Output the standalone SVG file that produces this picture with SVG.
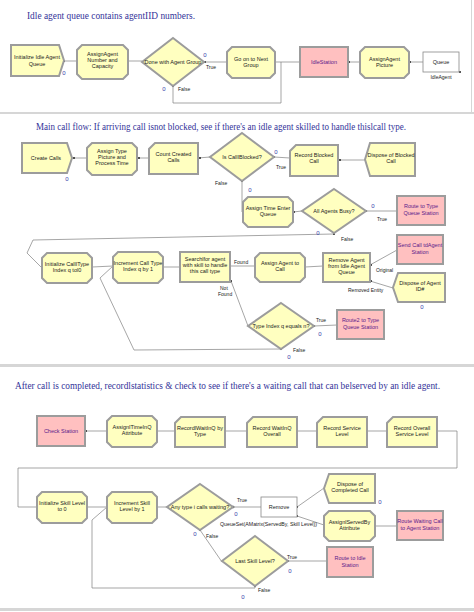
<svg xmlns="http://www.w3.org/2000/svg" width="474" height="612" viewBox="0 0 474 612">
<style>
.m{fill:#ffffc0;stroke:#9c9c9c;stroke-width:2}
.s{fill:#ffc0c0;stroke:#9c9c9c;stroke-width:2}
.w{fill:#fff;stroke:#888;stroke-width:0.8}
.t{font-family:"Liberation Sans",Arial,sans-serif;font-size:5.5px;text-anchor:middle;fill:#222}
.st{fill:#5a1a8a}
.z{font-family:"Liberation Sans",Arial,sans-serif;font-size:6px;fill:#3344aa;text-anchor:middle}
.l{font-family:"Liberation Sans",Arial,sans-serif;font-size:5px;fill:#222}
.h{font-family:"Liberation Serif","Times New Roman",serif;font-size:10px;fill:#333399}
.c{fill:none;stroke:#808080;stroke-width:0.7}
.d{fill:#222}
.sep{fill:#d6d6d6}
</style>
<rect width="474" height="612" fill="#fff"/>
<rect class="sep" x="0" y="112" width="474" height="2"/>
<rect class="sep" x="0" y="364" width="474" height="3"/>
<rect class="sep" x="0" y="608" width="474" height="3"/>
<rect class="sep" x="471" y="0" width="1" height="112"/>

<text class="h" x="27" y="19" textLength="168" lengthAdjust="spacingAndGlyphs">Idle agent queue contains agentIID numbers.</text>
<text class="h" x="36" y="130" textLength="370" lengthAdjust="spacingAndGlyphs">Main call flow: If arriving call isnot blocked, see if there's an idle agent skilled to handle thislcall type.</text>
<text class="h" x="15" y="389" textLength="425" lengthAdjust="spacingAndGlyphs">After call is completed, recordlstatistics &amp; check to see if there's a waiting call that can belserved by an idle agent.</text>

<g id="connectors">
<polyline class="c" points="64,61 77,61"/>
<polyline class="c" points="128,61 142,61"/>
<polyline class="c" points="205,62 227,62"/>
<polyline class="c" points="275,62 300,62"/>
<polyline class="c" points="348,62 360,62"/>
<polyline class="c" points="409,62 423,62"/>
<polyline class="c" points="173,86 173,103 281,103 281,62"/>
<polyline class="c" points="72,158 87,158"/>
<polyline class="c" points="137,158 149,158"/>
<polyline class="c" points="198,158 210,157"/>
<polyline class="c" points="274,157 290,158"/>
<polyline class="c" points="338,160 365,160"/>
<polyline class="c" points="242,181 242,212 244,212"/>
<polyline class="c" points="293,212 302,211"/>
<polyline class="c" points="366,211 397,211"/>
<polyline class="c" points="334,234 33,240 27,253 42,268"/>
<polyline class="c" points="92,267 113,266"/>
<polyline class="c" points="163,267 180,267"/>
<polyline class="c" points="230,266 255,266"/>
<polyline class="c" points="231,281 248,326"/>
<polyline class="c" points="305,267 323,266"/>
<polyline class="c" points="370,265 397,250"/>
<polyline class="c" points="370,281 393,288"/>
<polyline class="c" points="314,326 337,325"/>
<polyline class="c" points="281,349 134,350 100,278 113,266"/>
<polyline class="c" points="85,431 107,431"/>
<polyline class="c" points="157,431 175,431"/>
<polyline class="c" points="225,431 247,431"/>
<polyline class="c" points="297,431 317,431"/>
<polyline class="c" points="367,431 387,431"/>
<polyline class="c" points="437,431 457,431 457,468 18,468 18,507 37,507"/>
<polyline class="c" points="87,507 107,507"/>
<polyline class="c" points="157,507 167,507"/>
<polyline class="c" points="233,507 261,507"/>
<polyline class="c" points="297,507 324,488"/>
<polyline class="c" points="297,516 324,525"/>
<polyline class="c" points="375,526 397,526"/>
<polyline class="c" points="200,530 222,562"/>
<polyline class="c" points="288,561 327,561"/>
<polyline class="c" points="255,586 255,588 92,588 92,520 107,507"/>
<g class="d">
<circle cx="64" cy="61" r="1"/><circle cx="127" cy="61" r="1"/><circle cx="205" cy="62" r="1"/><circle cx="173" cy="86" r="1"/>
<circle cx="275" cy="62" r="1"/><circle cx="349" cy="62" r="1"/><circle cx="410" cy="62" r="1"/><circle cx="460" cy="72" r="1"/>
<circle cx="74" cy="158" r="1"/><circle cx="139" cy="158" r="1"/><circle cx="200" cy="158" r="1"/><circle cx="274" cy="157" r="1"/>
<circle cx="340" cy="160" r="1"/><circle cx="242" cy="181" r="1"/><circle cx="294" cy="212" r="1"/><circle cx="366" cy="211" r="1"/>
<circle cx="334" cy="234" r="1"/><circle cx="92" cy="267" r="1"/><circle cx="163" cy="267" r="1"/><circle cx="230" cy="266" r="1"/>
<circle cx="231" cy="281" r="1"/><circle cx="305" cy="267" r="1"/><circle cx="371" cy="265" r="1"/><circle cx="371" cy="281" r="1"/>
<circle cx="314" cy="326" r="1"/><circle cx="281" cy="349" r="1"/>
<circle cx="86" cy="431" r="1"/><circle cx="157" cy="431" r="1"/><circle cx="225" cy="431" r="1"/><circle cx="297" cy="431" r="1"/>
<circle cx="367" cy="431" r="1"/><circle cx="437" cy="431" r="1"/><circle cx="87" cy="507" r="1"/><circle cx="157" cy="507" r="1"/>
<circle cx="233" cy="507" r="1.3"/><circle cx="297" cy="507" r="1"/><circle cx="297" cy="516" r="1"/><circle cx="375" cy="526" r="1"/>
<circle cx="200" cy="530" r="1"/><circle cx="288" cy="561" r="1"/><circle cx="255" cy="586" r="1"/>
</g>
</g>

<!-- Section 1 -->
<g id="initIdleQueue"><polygon class="m" points="11,45 59,45 64,60.5 59,76 11,76"/><text class="t" x="37" y="59">Initialize Idle Agent</text><text class="t" x="37" y="65.5">Queue</text><text class="z" x="64" y="75">0</text></g>
<g id="assignAgentNumber"><polygon class="m" points="82,45 123,45 128,50 128,74 123,79 82,79 77,74 77,50"/><text class="t" x="102.5" y="56">AssignAgent</text><text class="t" x="102.5" y="62">Number and</text><text class="t" x="102.5" y="68">Capacity</text></g>
<g id="doneAgentGroup"><polygon class="m" points="173,38 204,62 173,86 142,62"/><text class="t" x="173" y="64">Done with Agent Group</text><text class="z" x="205" y="57">0</text><text class="l" x="206" y="69">True</text><text class="z" x="164" y="91">0</text><text class="l" x="178" y="91">False</text></g>
<g id="goNextGroup"><polygon class="m" points="232,47 270,47 275,52 275,73 270,78 232,78 227,73 227,52"/><text class="t" x="251" y="60.5">Go on to Next</text><text class="t" x="251" y="66.5">Group</text></g>
<g id="idleStation"><rect class="s" x="300" y="47" width="48" height="30"/><text class="t st" x="324" y="64">IdleStation</text></g>
<g id="assignAgentPicture"><polygon class="m" points="365,47 404,47 409,52 409,73 404,78 365,78 360,73 360,52"/><text class="t" x="384.5" y="60.5">AssignAgent</text><text class="t" x="384.5" y="66.5">Picture</text></g>
<g id="queueIdle"><rect class="w" x="423" y="52" width="36" height="20"/><text class="t" x="441" y="64">Queue</text><text class="l" x="441" y="79" text-anchor="middle">IdleAgent</text></g>

<!-- Section 2 -->
<g id="createCalls"><polygon class="m" points="22,143 67,143 72,158 67,173 22,173"/><text class="t" x="46" y="160">Create Calls</text><text class="z" x="67" y="181">0</text></g>
<g id="assignType"><polygon class="m" points="92,143 132,143 137,148 137,170 132,175 92,175 87,170 87,148"/><text class="t" x="112" y="153">Assign Type</text><text class="t" x="112" y="159">Picture and</text><text class="t" x="112" y="165">Process Time</text></g>
<g id="countCreated"><polygon class="m" points="155,143 198,143 198,174 149,174 149,149"/><text class="t" x="173.5" y="156">Count Created</text><text class="t" x="173.5" y="162">Calls</text></g>
<g id="isBlocked"><polygon class="m" points="242,133 274,157 242,181 210,157"/><text class="t" x="242" y="159">Is CallIBlocked?</text><text class="z" x="276" y="154">0</text><text class="l" x="276" y="169">True</text><text class="l" x="215" y="185">False</text><text class="z" x="250" y="192">0</text></g>
<g id="recordBlocked"><polygon class="m" points="296,145 338,145 338,176 290,176 290,151"/><text class="t" x="314" y="157">Record Blocked</text><text class="t" x="314" y="163">Call</text></g>
<g id="disposeBlocked"><polygon class="m" points="370,143 415,143 415,176 370,176 365,159.5"/><text class="t" x="391" y="157">Dispose of Blocked</text><text class="t" x="391" y="163">Call</text></g>
<g id="assignTimeEnter"><polygon class="m" points="248,197 288,197 293,202 293,222 288,227 248,227 243,222 243,202"/><text class="t" x="268" y="209.5">Assign Time Enter</text><text class="t" x="268" y="215.5">Queue</text></g>
<g id="allBusy"><polygon class="m" points="334,189 366,211 334,233 302,211"/><text class="t" x="334" y="213">All Agents Busy?</text><text class="z" x="373" y="208">0</text><text class="l" x="377" y="221">True</text><text class="z" x="318" y="235">0</text><text class="l" x="341" y="241">False</text></g>
<g id="routeTypeQueue"><rect class="s" x="397" y="196" width="48" height="29"/><text class="t st" x="421" y="208">Route to Type</text><text class="t st" x="421" y="214.5">Queue Station</text></g>
<g id="initCallType"><polygon class="m" points="47,253 87,253 92,258 92,278 87,283 47,283 42,278 42,258"/><text class="t" x="67" y="265.5">Initialize CallIType</text><text class="t" x="67" y="271.5">Index q tol0</text></g>
<g id="incCallType"><polygon class="m" points="118,252 158,252 163,257 163,278 158,283 118,283 113,278 113,257"/><text class="t" x="138" y="265">Increment Call Type</text><text class="t" x="138" y="271">Index q by 1</text></g>
<g id="searchAgent"><rect class="m" x="180" y="252" width="50" height="30"/><text class="t" x="205" y="261">Searchlfor agent</text><text class="t" x="205" y="267">with skill to handle</text><text class="t" x="205" y="273">this call type</text><text class="l" x="234" y="264">Found</text><text class="l" x="220" y="290">Not</text><text class="l" x="218" y="296">Found</text></g>
<g id="assignAgentCall"><polygon class="m" points="260,253 300,253 305,258 305,277 300,282 260,282 255,277 255,258"/><text class="t" x="280" y="265">Assign Agent to</text><text class="t" x="280" y="271">Call</text></g>
<g id="removeAgent"><rect class="m" x="323" y="253" width="47" height="29"/><text class="t" x="346.5" y="262">Remove Agent</text><text class="t" x="346.5" y="268">from Idle Agent</text><text class="t" x="346.5" y="274">Queue</text><text class="l" x="376" y="272">Original</text><text class="l" x="348" y="292">Removed Entity</text></g>
<g id="sendCallAgent"><rect class="s" x="397" y="235" width="46" height="29"/><text class="t st" x="420" y="247">Send Call tdAgent</text><text class="t st" x="420" y="254">Station</text></g>
<g id="disposeAgentID"><polygon class="m" points="398,273 445,273 445,302 398,302 393,287.5"/><text class="t" x="420" y="285">Dispose of Agent</text><text class="t" x="420" y="291">ID#</text><text class="z" x="422" y="309">0</text></g>
<g id="typeIndexEq"><polygon class="m" points="281,303 314,326 281,349 248,326"/><text class="t" x="281" y="328">Type Index q equals n?</text><text class="l" x="316" y="322">True</text><text class="z" x="320" y="336">0</text><text class="l" x="293" y="352">False</text><text class="z" x="289" y="359">0</text></g>
<g id="route2TypeQueue"><rect class="s" x="337" y="310" width="47" height="29"/><text class="t st" x="360.5" y="322">Route2 to Type</text><text class="t st" x="360.5" y="329">Queue Station</text></g>

<!-- Section 3 -->
<g id="checkStation"><rect class="s" x="37" y="416" width="48" height="30"/><text class="t st" x="61" y="433">Check Station</text></g>
<g id="assignTimeInQ"><polygon class="m" points="112,416 152,416 157,421 157,442 152,447 112,447 107,442 107,421"/><text class="t" x="132" y="429">AssignITimeInQ</text><text class="t" x="132" y="435">Attribute</text></g>
<g id="recordWaitType"><polygon class="m" points="181,417 225,417 225,447 175,447 175,423"/><text class="t" x="200" y="430">RecordlWaitInQ by</text><text class="t" x="200" y="436">Type</text></g>
<g id="recordWaitOverall"><polygon class="m" points="253,417 297,417 297,447 247,447 247,423"/><text class="t" x="272" y="430">Record WaitInQ</text><text class="t" x="272" y="436">Overall</text></g>
<g id="recordServiceLevel"><polygon class="m" points="323,417 367,417 367,447 317,447 317,423"/><text class="t" x="342" y="430">Record Service</text><text class="t" x="342" y="436">Level</text></g>
<g id="recordOverallService"><polygon class="m" points="393,417 437,417 437,447 387,447 387,423"/><text class="t" x="412" y="430">Record Overall</text><text class="t" x="412" y="436">Service Level</text></g>
<g id="initSkill"><polygon class="m" points="42,492 82,492 87,497 87,518 82,523 42,523 37,518 37,497"/><text class="t" x="62" y="505">Initialize Skill Level</text><text class="t" x="62" y="511">to 0</text></g>
<g id="incSkill"><polygon class="m" points="112,492 152,492 157,497 157,518 152,523 112,523 107,518 107,497"/><text class="t" x="132" y="505">Increment Skill</text><text class="t" x="132" y="511">Level by 1</text></g>
<g id="anyWaiting"><polygon class="m" points="200,484 233,507 200,530 167,507"/><text class="t" x="200" y="509">Any type i calls waiting?</text><text class="l" x="237" y="502">True</text><text class="z" x="236" y="516">0</text><text class="z" x="195" y="536">0</text><text class="l" x="206" y="538">False</text></g>
<g id="removeQ"><rect class="w" x="261" y="497" width="36" height="20"/><text class="t" x="279" y="509">Remove</text><text class="l" x="220" y="526" font-size="4.5" textLength="97" lengthAdjust="spacingAndGlyphs">QueueSet(AMatrix(ServedBy, Skill Level))</text></g>
<g id="disposeCompleted"><polygon class="m" points="329,474 375,474 375,503 329,503 324,488.5"/><text class="t" x="350" y="486">Dispose of</text><text class="t" x="350" y="492">Completed Call</text><text class="z" x="380" y="504">0</text></g>
<g id="assignServedBy"><polygon class="m" points="329,511 370,511 375,516 375,536 370,541 329,541 324,536 324,516"/><text class="t" x="349.5" y="523.5">AssignlServedBy</text><text class="t" x="349.5" y="529.5">Attribute</text></g>
<g id="routeWaitingCall"><rect class="s" x="397" y="511" width="46" height="29"/><text class="t st" x="420" y="523">Route Waiting Call</text><text class="t st" x="420" y="530">to Agent Station</text></g>
<g id="lastSkill"><polygon class="m" points="255,536 288,561 255,586 222,561"/><text class="t" x="255" y="563">Last Skill Level?</text><text class="l" x="287" y="559">True</text><text class="z" x="290" y="573">0</text><text class="l" x="258" y="592">False</text><text class="z" x="243" y="599">0</text></g>
<g id="routeIdleStation"><rect class="s" x="327" y="547" width="46" height="30"/><text class="t st" x="350" y="559.5">Route to Idle</text><text class="t st" x="350" y="566.5">Station</text></g>
</svg>
